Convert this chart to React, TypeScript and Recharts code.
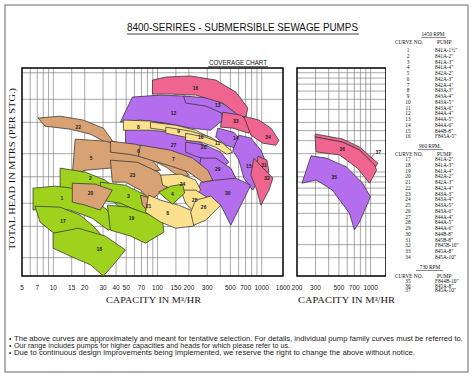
import React from "react";
import { ScatterChart, Scatter, XAxis, YAxis, CartesianGrid, ReferenceArea } from "recharts";

const GREEN = "#9fd21c";
const BROWN = "#d8a274";
const YELLOW = "#fbe08e";
const PURPLE = "#b36ded";
const PINK = "#ef6590";

// capacity (m3/hr), head (m) outlines
const c22 = [[7.13, 33.0], [11.6, 34.4], [19.3, 31.6], [30.2, 26.4], [37.6, 19.4], [33.0, 18.9], [22.7, 23.1], [14.5, 25.8], [8.33, 27.6]];
const c5 = [[16.2, 20.7], [31.5, 19.8], [54.9, 17.3], [85.6, 13.6], [107, 10.4], [68.5, 9.97], [35.3, 10.9], [20.2, 10.4], [15.2, 9.33]];
const c6 = [[35.3, 19.8], [61.3, 18.5], [107, 15.8], [159, 12.4], [199, 9.33], [167, 8.73], [122, 11.1], [81.9, 13.6], [52.6, 14.8], [35.3, 15.5]];
const c7 = [[68.5, 18.1], [134, 16.2], [217, 13.6], [303, 10.4], [339, 8.35], [271, 7.99], [199, 9.97], [134, 11.4], [85.6, 13.0], [65.5, 14.2]];
const c23 = [[35.3, 13.0], [64.1, 12.4], [102, 9.97], [128, 7.31], [85.6, 5.36], [68.5, 6.69], [49.2, 7.99], [36.8, 7.99]];
const c21 = [[68.5, 5.99], [85.6, 5.6], [95.6, 4.49], [81.9, 4.11], [71.7, 4.8]];
const c20 = [[15.2, 7.81], [25.2, 7.64], [36.8, 6.69], [28.2, 4.3], [20.2, 4.8], [15.2, 5.13]];
const c1 = [[6.38, 6.99], [10.4, 7.31], [15.2, 6.99], [22.7, 5.73], [33.0, 4.3], [41.2, 3.02], [33.7, 2.76], [23.6, 3.6], [14.5, 4.3], [8.33, 4.49], [6.38, 4.3]];
const c2 = [[11.6, 10.9], [20.2, 9.97], [31.5, 8.35], [44.0, 6.4], [54.9, 4.8], [46.0, 4.3], [35.3, 5.6], [22.7, 6.69], [11.6, 6.99]];
const c3 = [[28.2, 7.99], [49.2, 7.47], [76.6, 5.99], [107, 4.3], [120, 3.3], [95.6, 3.08], [68.5, 4.11], [44.0, 5.01], [28.2, 5.36]];
const c17 = [[6.67, 4.69], [11.6, 4.59], [18.1, 3.85], [24.1, 3.02], [29.5, 2.42], [16.9, 1.66], [11.6, 2.31], [7.45, 3.3]];
const c18 = [[9.95, 2.58], [17.3, 2.88], [31.5, 2.42], [49.2, 1.78], [37.6, 1.28], [30.2, 1.0], [22.7, 1.28], [15.2, 1.52], [9.95, 1.85]];
const c19 = [[33.0, 4.8], [52.6, 4.59], [81.9, 3.93], [112, 3.3], [115, 2.64], [76.6, 2.07], [54.9, 2.42], [35.3, 2.76]];
const c4 = [[102, 6.4], [134, 7.31], [174, 7.64], [182, 6.26], [139, 4.9]];
const c8b = [[81.9, 5.99], [107, 5.36], [159, 4.8], [232, 4.11], [260, 3.6], [222, 3.02], [149, 2.88], [107, 3.3], [76.6, 4.11]];
const c24 = [[107, 9.33], [167, 9.54], [232, 8.35], [260, 6.69], [217, 5.73], [149, 6.69], [112, 7.47]];
const c25 = [[167, 6.69], [232, 6.69], [310, 5.6], [290, 4.3], [232, 4.02], [186, 5.01]];
const c26 = [[232, 5.36], [324, 5.86], [404, 4.8], [290, 3.44], [222, 3.08], [208, 4.11]];
const c8 = [[47.0, 31.6], [85.6, 30.9], [134, 28.2], [134, 24.1], [85.6, 25.2], [47.0, 25.2]];
const c9 = [[85.6, 30.2], [149, 28.2], [232, 25.2], [324, 21.2], [290, 20.2], [208, 22.6], [134, 24.7], [85.6, 26.4]];
const c10 = [[120, 27.0], [208, 24.7], [324, 21.6], [452, 17.7], [404, 16.6], [290, 20.2], [186, 21.6], [120, 23.6]];
const c11 = [[186, 23.6], [290, 21.6], [423, 18.9], [528, 15.5], [462, 14.8], [362, 17.3], [260, 19.4], [186, 20.2]];
const c12 = [[44.0, 30.2], [57.4, 52.6], [107, 54.9], [186, 53.7], [290, 49.2], [404, 39.4], [423, 31.6], [324, 25.2], [208, 26.4], [120, 29.5], [68.5, 31.6]];
const c13 = [[178, 53.7], [324, 51.4], [564, 39.4], [786, 30.2], [689, 27.6], [483, 34.4], [290, 43.0], [186, 46.0]];
const c27 = [[49.2, 26.4], [85.6, 26.4], [159, 23.6], [260, 19.4], [339, 14.5], [290, 10.4], [208, 13.0], [134, 15.5], [76.6, 16.9], [49.2, 16.2]];
const c28 = [[186, 19.4], [290, 18.1], [404, 15.5], [483, 12.4], [404, 10.9], [310, 13.0], [232, 14.2], [186, 15.5]];
const c29 = [[260, 13.6], [362, 13.6], [505, 10.9], [564, 8.73], [423, 6.99], [324, 8.35], [248, 9.97]];
const c30 = [[260, 7.99], [362, 8.35], [564, 8.73], [786, 7.47], [630, 4.8], [505, 3.08], [404, 4.8], [232, 5.6]];
const c14 = [[378, 26.4], [540, 24.1], [659, 19.4], [603, 16.6], [452, 18.1], [362, 21.6]];
const c15 = [[603, 22.6], [786, 21.2], [982, 16.2], [1097, 12.4], [1027, 9.97], [822, 6.69], [674, 8.73], [603, 13.0], [528, 16.2]];
const c16 = [[89.5, 76.6], [120, 81.9], [208, 83.8], [362, 76.6], [564, 58.7], [736, 41.2], [704, 33.7], [630, 33.7], [423, 46.0], [232, 54.9], [134, 56.1], [89.5, 56.1]];
const c33 = [[423, 37.6], [630, 35.2], [822, 28.2], [753, 23.6], [528, 26.4], [404, 27.0]];
const c34 = [[674, 34.4], [939, 31.6], [1226, 26.4], [1463, 20.2], [1368, 18.1], [1027, 18.9], [786, 22.6]];
const c31 = [[919, 14.2], [1122, 13.0], [1173, 9.97], [1027, 9.12], [898, 10.9]];
const c32 = [[841, 13.6], [1027, 10.9], [1281, 8.73], [1173, 6.69], [982, 4.8], [898, 6.69], [786, 9.33]];

// 730 rpm chart
const c37 = [[297, 23.2], [539, 20.8], [784, 17.4], [1166, 12.2], [1115, 11.2], [784, 16.3], [539, 19.4], [297, 21.7]];
const c36 = [[297, 21.7], [539, 19.4], [784, 16.3], [1091, 11.7], [1140, 10.4], [977, 7.81], [750, 10.9], [505, 14.6], [304, 15.6]];
const c35 = [[272, 14.3], [379, 13.6], [589, 11.2], [838, 7.81], [998, 5.75], [784, 3.3], [702, 2.77], [629, 4.02], [432, 6.71], [304, 8.38], [223, 7.81]];
const lead37 = [[1090, 15.0], [1000, 13.6]];

// drawing order matters, later ones sit on top
const leftRegions = [
  { fill: BROWN, pts: c22 }, { fill: PURPLE, pts: c12 }, { fill: PURPLE, pts: c13 }, { fill: PINK, pts: c16 },
  { fill: PINK, pts: c33 }, { fill: PINK, pts: c34 }, { fill: PURPLE, pts: c14 }, { fill: PURPLE, pts: c15 },
  { fill: PINK, pts: c31 }, { fill: PINK, pts: c32 }, { fill: PURPLE, pts: c27 },
  { fill: YELLOW, pts: c8 }, { fill: YELLOW, pts: c9 }, { fill: YELLOW, pts: c10 }, { fill: YELLOW, pts: c11 },
  { fill: PURPLE, pts: c28 }, { fill: PURPLE, pts: c29 }, { fill: PURPLE, pts: c30 },
  { fill: BROWN, pts: c5 }, { fill: BROWN, pts: c6 }, { fill: BROWN, pts: c7 },
  { fill: GREEN, pts: c2 }, { fill: GREEN, pts: c1 }, { fill: GREEN, pts: c3 },
  { fill: BROWN, pts: c20 }, { fill: BROWN, pts: c23 }, { fill: BROWN, pts: c21 },
  { fill: GREEN, pts: c17 }, { fill: GREEN, pts: c18 }, { fill: GREEN, pts: c19 },
  { fill: YELLOW, pts: c8b }, { fill: YELLOW, pts: c24 }, { fill: YELLOW, pts: c25 }, { fill: YELLOW, pts: c26 },
  { fill: GREEN, pts: c4 },
];
const rightRegions = [{ fill: PURPLE, pts: c35 }, { fill: PINK, pts: c37 }, { fill: PINK, pts: c36 }, { fill: "none", pts: lead37 }];

const leftLabels = [
  ["22", 17.3, 27.0], ["5", 23.0, 13.6], ["6", 65.5, 15.8], ["7", 142, 13.3], ["23", 57.4, 9.33], ["21", 81.9, 4.69],
  ["20", 22.7, 6.26], ["1", 12.1, 5.6], ["2", 22.7, 8.73], ["3", 52.6, 5.86], ["17", 12.4, 3.37], ["18", 27.6, 1.82],
  ["19", 56.2, 3.6], ["4", 139, 6.12], ["8", 125, 4.02], ["24", 174, 7.64], ["25", 227, 5.36], ["26", 277, 4.59],
  ["8", 65.5, 27.0], ["9", 159, 24.7], ["10", 260, 21.6], ["11", 378, 18.9], ["12", 142, 36.8], ["13", 378, 44.0],
  ["27", 142, 18.1], ["28", 277, 17.3], ["29", 378, 10.7], ["30", 472, 6.26], ["14", 564, 21.2], ["15", 753, 11.4],
  ["16", 232, 64.1], ["33", 564, 30.9], ["34", 1147, 21.6], ["31", 1050, 11.6], ["32", 1122, 8.73],
];
const rightLabels = [["36", 539, 16.6], ["35", 452, 8.92], ["37", 1180, 15.6]];

const leftTicks = [5, 7, 10, 15, 20, 30, 40, 50, 70, 100, 150, 200, 300, 500, 700, 1000, 1600];
const rightTicks = [200, 300, 500, 700, 1000];
const headTicks = [1.5, 2, 3, 4, 5, 7, 10, 15, 20, 25, 30, 40, 50, 70, 100];
const leftGridX = [6, 7, 8, 9, 10, 15, 20, 30, 40, 50, 60, 70, 80, 90, 100, 150, 200, 300, 400, 500, 600, 700, 800, 900, 1000];
const rightGridX = [300, 400, 500, 600, 700, 800, 900, 1000];
const gridY = [1.5, 2, 3, 4, 5, 6, 7, 8, 9, 10, 15, 20, 25, 30, 40, 50, 60, 70, 80, 90];

const pumps1450 = ['841A-1½"', '841A-2"', '841A-3"', '841A-4"', '842A-2"', '842A-3"', '842A-4"', '843A-3"', '843A-4"', '843A-5"', '843A-6"', '844A-4"', '844A-5"', '844A-6"', '844B-8"', 'F845A-5"'];
const pumps960 = ['841A-2"', '841A-3"', '841A-4"', '842A-2"', '842A-3"', '842A-4"', '843A-3"', '843A-4"', '843A-5"', '843A-6"', '844A-4"', '844A-5"', '844A-6"', '844B-8"', '845B-8"', 'F845B-10"', '845A-8"', '845A-10"'];
const pumps730 = ['F844B-10"', '845A-8"', '845A-10"'];

const notes = [
  "The above curves are approximately and meant for tentative selection. For details, individual pump family curves must be referred to.",
  "Our range includes pumps for higher capacities and heads for which please refer to us.",
  "Due to continuous design improvements being implemented, we reserve the right to change the above without notice.",
];
const noteWidths = [449, 276, 401];

const SANS = "'Liberation Sans', Arial, sans-serif";
const SERIF = "'Liberation Serif', 'Times New Roman', serif";

const toPts = (pts: number[][]) => pts.map(([q, h]) => ({ q, h }));
const toLabels = (ls: any[]) => ls.map(([n, q, h]) => ({ n, q, h }));

function polygonLine(fill: string) {
  return (props: any) => {
    const pts = (props.points || []).map((p: any) => `${p.x},${p.y}`).join(" ");
    if (fill === "none") return <polyline points={pts} fill="none" stroke="#333" strokeWidth={0.6} />;
    return <polygon points={pts} fill={fill} stroke="#333" strokeWidth={0.75} strokeLinejoin="round" />;
  };
}
const noDot = () => <g />;
const labelDot = (p: any) => (
  <text x={p.cx} y={p.cy} textAnchor="middle" dominantBaseline="central" fontSize={5} fontWeight="bold" fontFamily={SANS} fill="#222">
    {p.payload.n}
  </text>
);
const headTick = (p: any) => (
  <text x={292} y={p.y} textAnchor="middle" dominantBaseline="central" fontSize={6.5} fontFamily={SANS} fill="#222">
    {p.payload.value}
  </text>
);
const xTickStyle = { fontSize: 6.5, fill: "#222", fontFamily: SANS };

function CoverageChart(props: any) {
  const { width, margin, domain, ticks, gridX, regions, labels, showHead } = props;
  return (
    <ScatterChart width={width} height={320} margin={margin}>
      <XAxis type="number" dataKey="q" scale="log" domain={domain} allowDataOverflow ticks={ticks} interval={0}
        tickLine={false} axisLine={false} height={30} tickMargin={3} tick={xTickStyle} />
      {showHead ? (
        <YAxis type="number" dataKey="h" scale="log" domain={[1, 100]} allowDataOverflow ticks={headTicks} interval={0}
          tickLine={false} axisLine={false} width={14} tick={headTick} />
      ) : (
        <YAxis type="number" dataKey="h" scale="log" domain={[1, 100]} allowDataOverflow hide />
      )}
      {regions.map((r: any, i: number) => (
        <Scatter key={i} data={toPts(r.pts)} shape={noDot} line={polygonLine(r.fill)} lineType="joint" isAnimationActive={false} />
      ))}
      <CartesianGrid verticalValues={gridX} horizontalValues={gridY} stroke="#6f6f6f" strokeWidth={0.6} />
      <Scatter data={toLabels(labels)} shape={labelDot} isAnimationActive={false} />
      <ReferenceArea x1={domain[0]} x2={domain[1]} y1={1} y2={100} fill="none" stroke="#000" strokeWidth={1.5} ifOverflow="visible" />
    </ScatterChart>
  );
}

export default function App() {
  const rowStep = 5.75;
  return (
    <div style={{ position: "absolute", left: 0, top: 0, width: 474, height: 382, background: "#fff" }}>
      <svg width={474} height={382} style={{ position: "absolute", left: 0, top: 0 }}>
        <rect x={5} y={5} width={463} height={367} fill="none" stroke="#9a9a9a" strokeWidth={1.5} />
        <text x={127} y={31} fontFamily={SANS} fontSize={11} textLength={231} lengthAdjust="spacingAndGlyphs" fill="#111">
          8400-SERIRES - SUBMERSIBLE SEWAGE PUMPS
        </text>
        <line x1={127} x2={359} y1={34} y2={34} stroke="#111" strokeWidth={0.8} />
        <text x={209} y={64.5} fontFamily={SANS} fontSize={7} textLength={58} lengthAdjust="spacingAndGlyphs" fill="#111">
          COVERAGE CHART
        </text>
        <line x1={208} x2={268} y1={66.5} y2={66.5} stroke="#111" strokeWidth={0.6} />
        <text transform="translate(15,169) rotate(-90)" textAnchor="middle" fontFamily={SERIF} fontSize={9}
          textLength={162} lengthAdjust="spacingAndGlyphs" fill="#111">
          TOTAL HEAD IN MTRS (PER STG.)
        </text>
        <text x={106} y={303} fontFamily={SERIF} fontSize={9} textLength={95} lengthAdjust="spacingAndGlyphs" fill="#111">
          CAPACITY IN M³/HR
        </text>
        <text x={298} y={303} fontFamily={SERIF} fontSize={9} textLength={97} lengthAdjust="spacingAndGlyphs" fill="#111">
          CAPACITY IN M³/HR
        </text>

        <g fontFamily={SERIF} fontSize={5.3} fill="#111">
          <text x={433} y={36} textAnchor="middle">1450   RPM</text>
          <line x1={421} x2={446} y1={37.5} y2={37.5} stroke="#111" strokeWidth={0.5} />
          <text x={395} y={44}>CURVE  NO.</text>
          <text x={437} y={44}>PUMP</text>
          {pumps1450.map((p, i) => (
            <g key={"a" + i}>
              <text x={408} y={52 + i * rowStep} textAnchor="middle">{i + 1}</text>
              <text x={435} y={52 + i * rowStep}>{p}</text>
            </g>
          ))}
          <text x={430} y={148} textAnchor="middle">960   RPM.</text>
          <line x1={418} x2={443} y1={149.5} y2={149.5} stroke="#111" strokeWidth={0.5} />
          <text x={395} y={156}>CURVE  NO.</text>
          <text x={437} y={156}>PUMP</text>
          {pumps960.map((p, i) => (
            <g key={"b" + i}>
              <text x={408} y={161 + i * rowStep} textAnchor="middle">{i + 17}</text>
              <text x={435} y={161 + i * rowStep}>{p}</text>
            </g>
          ))}
          <text x={430} y={269} textAnchor="middle">730   RPM</text>
          <line x1={416} x2={443} y1={270.5} y2={270.5} stroke="#111" strokeWidth={0.5} />
          <text x={395} y={277.5}>CURVE  NO.</text>
          <text x={437} y={277.5}>PUMP</text>
          {pumps730.map((p, i) => (
            <g key={"c" + i}>
              <text x={408} y={283 + i * 4.7} textAnchor="middle">{i + 35}</text>
              <text x={435} y={283 + i * 4.7}>{p}</text>
            </g>
          ))}
        </g>

        <g fontFamily={SANS} fontSize={6.5} fill="#222">
          {notes.map((n, i) => (
            <g key={"n" + i}>
              <text x={9} y={340.5 + i * 7}>•</text>
              <text x={14} y={340.5 + i * 7} textLength={noteWidths[i]} lengthAdjust="spacingAndGlyphs">{n}</text>
            </g>
          ))}
        </g>
      </svg>

      <div style={{ position: "absolute", left: 0, top: 0 }}>
        <CoverageChart width={300} margin={{ top: 68, right: 17, bottom: 14, left: 22 }} domain={[5, 1600]}
          ticks={leftTicks} gridX={leftGridX} regions={leftRegions} labels={leftLabels} showHead={false} />
      </div>
      <div style={{ position: "absolute", left: 283, top: 0 }}>
        <CoverageChart width={103} margin={{ top: 68, right: 0, bottom: 14, left: 0 }} domain={[200, 1400]}
          ticks={rightTicks} gridX={rightGridX} regions={rightRegions} labels={rightLabels} showHead={true} />
      </div>
    </div>
  );
}
